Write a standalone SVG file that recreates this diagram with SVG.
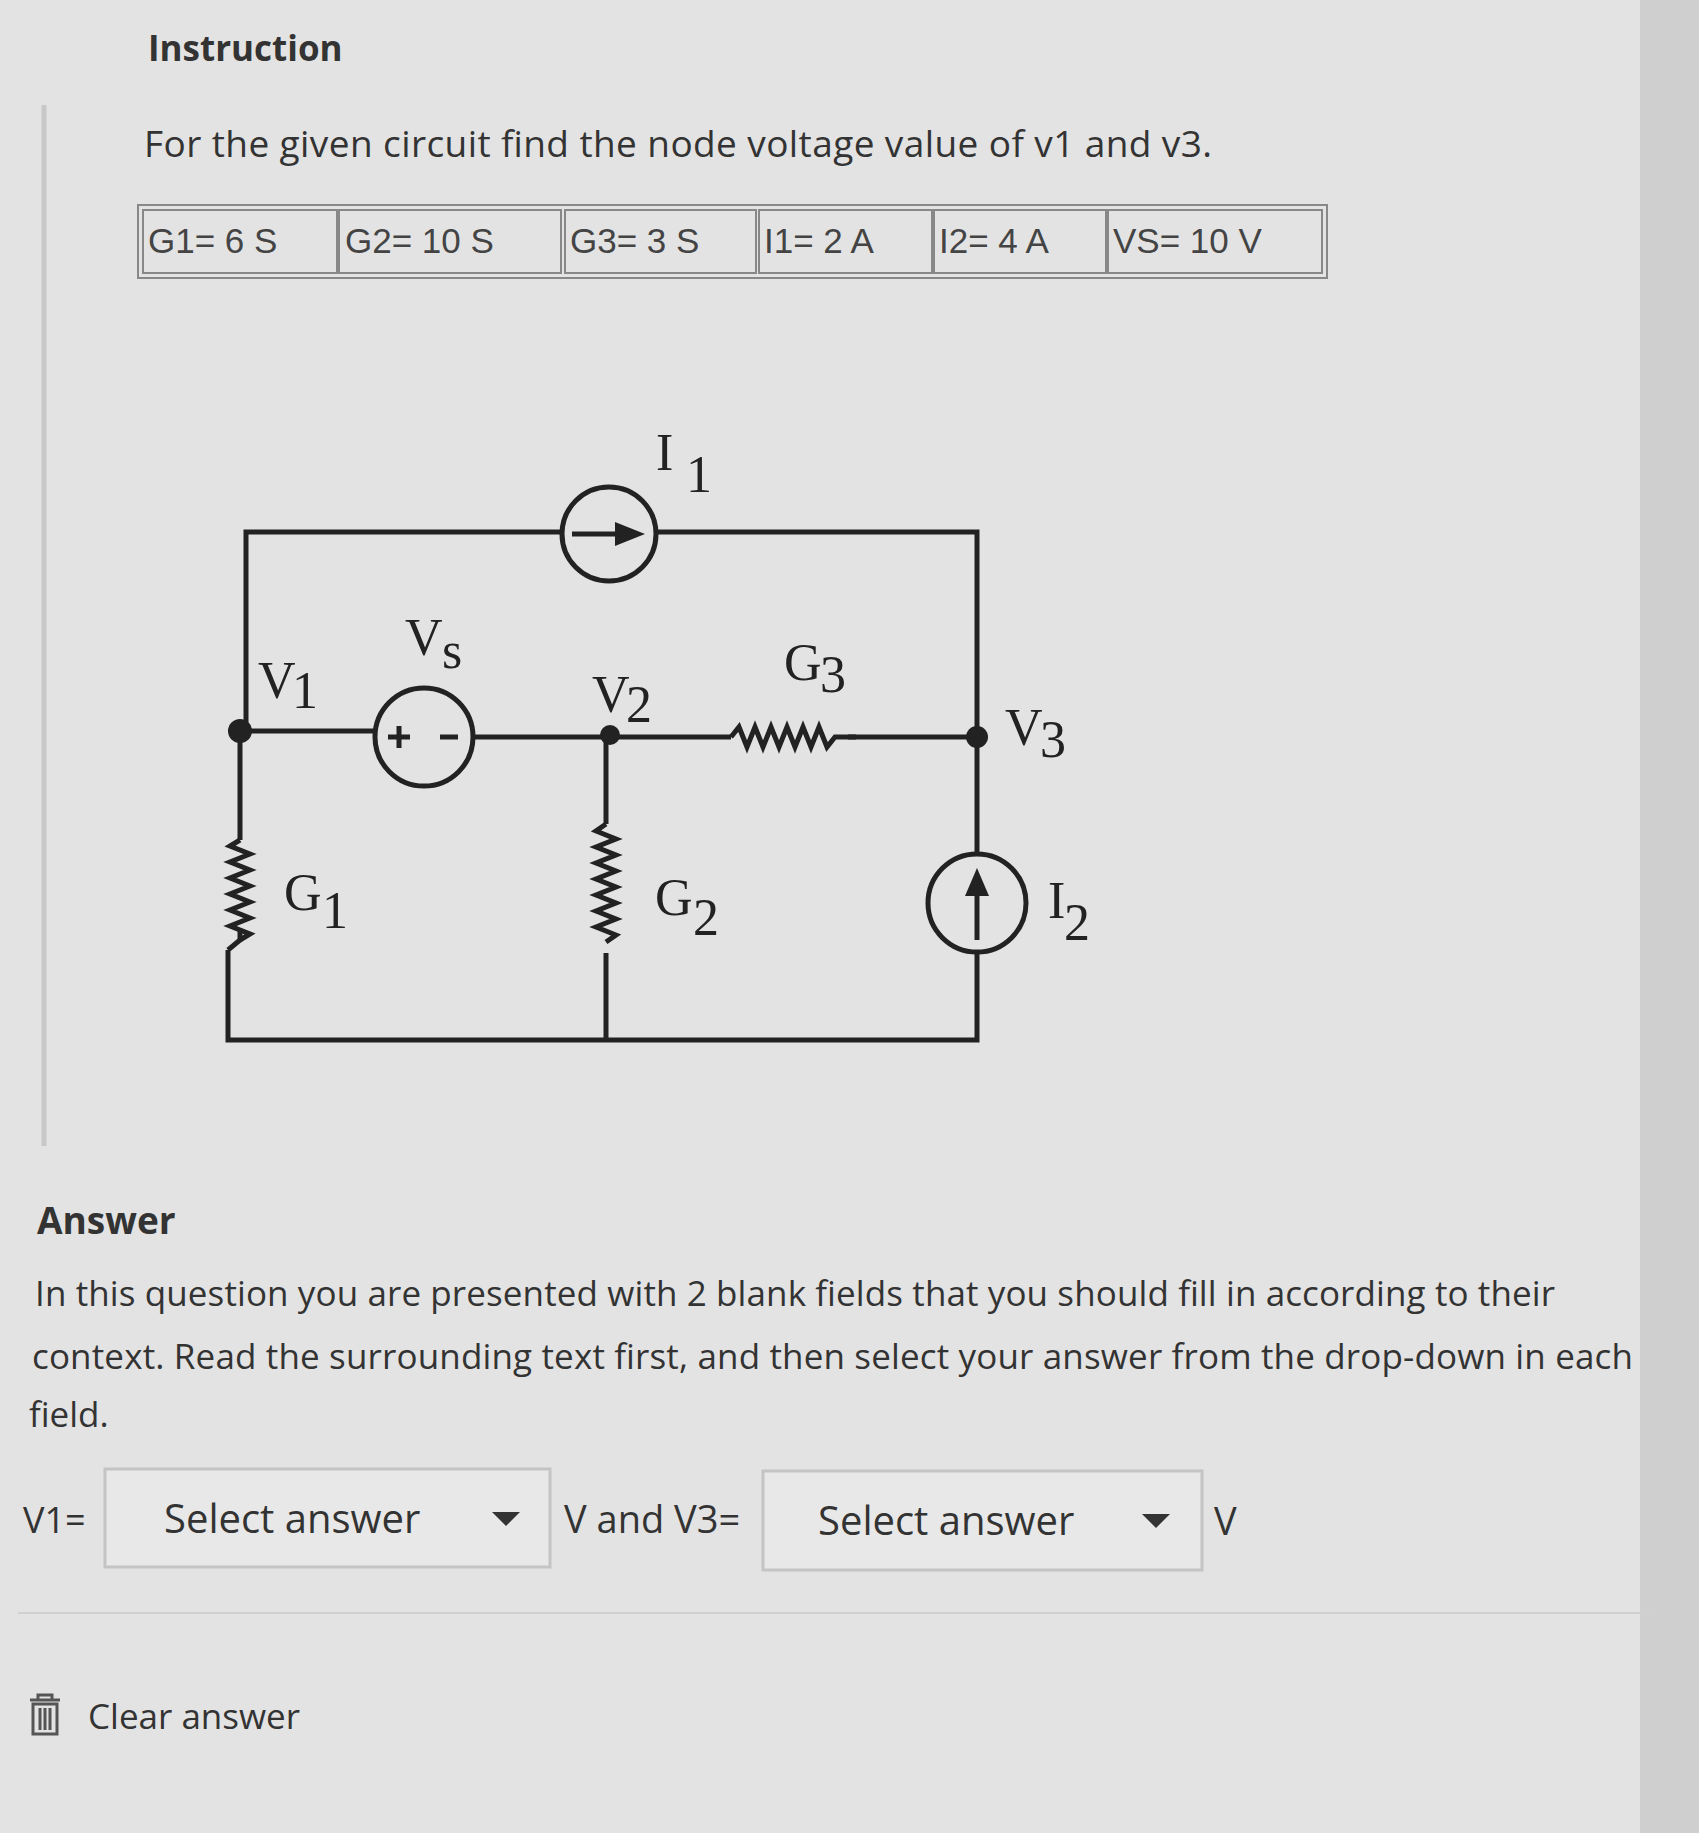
<svg xmlns="http://www.w3.org/2000/svg" width="1699" height="1833" viewBox="0 0 1699 1833">
<style>
.s{font-family:"Open Sans","Liberation Sans",sans-serif;fill:#333}
.w{fill:none;stroke:#222;stroke-width:5}
.c{font-family:"Liberation Serif",serif;fill:#222;font-size:52px}
.cell{fill:none;stroke:#888;stroke-width:2}
.t{font-family:"Liberation Sans",sans-serif;font-size:35px;fill:#444}
</style>
<rect width="1699" height="1833" fill="#e3e3e3"/>
<rect x="1640" width="59" height="1833" fill="#cfcfcf"/>
<line x1="44" y1="105" x2="44" y2="1146" stroke="#c8c8c8" stroke-width="5"/>
<text class="s" x="148" y="61" font-size="35" font-weight="bold">Instruction</text>
<text class="s" x="144" y="157" font-size="37" textLength="1068">For the given circuit find the node voltage value of v1 and v3.</text>
<g id="table">
<rect class="cell" x="138" y="205" width="1189" height="73"/>
<rect class="cell" x="143" y="210" width="194" height="63"/><text class="t" x="148" y="253">G1= 6 S</text>
<rect class="cell" x="339" y="210" width="222" height="63"/><text class="t" x="345" y="253">G2= 10 S</text>
<rect class="cell" x="565" y="210" width="191" height="63"/><text class="t" x="570" y="253">G3= 3 S</text>
<rect class="cell" x="759" y="210" width="173" height="63"/><text class="t" x="764" y="253">I1= 2 A</text>
<rect class="cell" x="934" y="210" width="172" height="63"/><text class="t" x="939" y="253">I2= 4 A</text>
<rect class="cell" x="1108" y="210" width="214" height="63"/><text class="t" x="1113" y="253">VS= 10 V</text>
</g>
<g id="connectors">
<path class="w" d="M246 731 V532 H562 M656 532 H977 V854 M977 952 V1040 H228 V950 M240 731 V840 M228 950 L240 940 V930 M606 734 V824 M606 953 V1040 M240 731 H375 M473 737 H731 M848 737 H977"/>
<path class="w" d="M240 840 l-10 6 l20 8 l-20 8 l20 8 l-20 8 l20 8 l-20 8 l20 8 l-20 8 l20 8 l-20 8 l20 8 l-10 6"/>
<path class="w" d="M606 824 l-10 7 l20 8 l-20 8 l20 8 l-20 8 l20 8 l-20 8 l20 8 l-20 8 l20 8 l-20 8 l20 8 l-20 8 l20 8 l-10 7"/>
<path class="w" d="M731 737 l8 -10 l8 20 l8 -20 l8 20 l8 -20 l8 20 l8 -20 l8 20 l8 -20 l8 20 l8 -20 l8 20 l8 -10 h21"/>
</g>
<g id="I1"><circle class="w" cx="609" cy="534" r="47"/><path class="w" d="M572 534 H620"/><path d="M645 534 L615 522 L615 546 Z" fill="#222"/></g>
<g id="Vs"><circle class="w" cx="424" cy="737" r="49"/><path class="w" d="M388 737 h22 M399 726 v22 M440 737 h18"/></g>
<g id="I2"><circle class="w" cx="977" cy="903" r="49"/><path class="w" d="M977 940 V890"/><path d="M977 868 L965 896 L989 896 Z" fill="#222"/></g>
<g id="nodes"><circle cx="240" cy="731" r="12" fill="#222"/><circle cx="610" cy="735" r="10" fill="#222"/><circle cx="977" cy="737" r="11" fill="#222"/></g>
<g id="labels">
<text class="c" x="656" y="470">I</text><text class="c" x="686" y="492" font-size="40">1</text>
<text class="c" x="405" y="655">V</text><text class="c" x="442" y="668" font-size="40">s</text>
<text class="c" x="258" y="698">V</text><text class="c" x="292" y="708" font-size="40">1</text>
<text class="c" x="592" y="712">V</text><text class="c" x="626" y="722" font-size="40">2</text>
<text class="c" x="784" y="680">G</text><text class="c" x="820" y="692" font-size="40">3</text>
<text class="c" x="1005" y="745">V</text><text class="c" x="1040" y="757" font-size="40">3</text>
<text class="c" x="284" y="910">G</text><text class="c" x="322" y="928" font-size="40">1</text>
<text class="c" x="655" y="915">G</text><text class="c" x="693" y="935" font-size="40">2</text>
<text class="c" x="1048" y="918">I</text><text class="c" x="1064" y="940" font-size="40">2</text>
</g>
<text class="s" x="37" y="1234" font-size="37" font-weight="bold">Answer</text>
<text class="s" x="35" y="1306" font-size="35" textLength="1520">In this question you are presented with 2 blank fields that you should fill in according to their</text>
<text class="s" x="32" y="1369" font-size="35" textLength="1601">context. Read the surrounding text first, and then select your answer from the drop-down in each</text>
<text class="s" x="29" y="1427" font-size="35">field.</text>
<text class="s" x="23" y="1533" font-size="36">V1=</text>
<rect x="105" y="1469" width="445" height="98" fill="#e8e8e8" stroke="#c4c4c4" stroke-width="3"/>
<text class="s" x="164" y="1533" font-size="40" fill="#555">Select answer</text>
<path d="M492 1512 h28 l-14 14 Z" fill="#333"/>
<text class="s" x="564" y="1533" font-size="38">V and V3=</text>
<rect x="763" y="1471" width="439" height="99" fill="#e8e8e8" stroke="#c4c4c4" stroke-width="3"/>
<text class="s" x="818" y="1535" font-size="40" fill="#555">Select answer</text>
<path d="M1142 1514 h28 l-14 14 Z" fill="#333"/>
<text class="s" x="1214" y="1535" font-size="38">V</text>
<line x1="18" y1="1613" x2="1658" y2="1613" stroke="#d0d0d0" stroke-width="2"/>
<g id="trash" fill="none" stroke="#555" stroke-width="3"><path d="M30 1700 h30 M38 1700 v-5 h14 v5 M33 1704 h24 v30 h-24 Z M40 1708 v22 M45 1708 v22 M50 1708 v22"/></g>
<text class="s" x="88" y="1729" font-size="35" fill="#444">Clear answer</text>
</svg>
